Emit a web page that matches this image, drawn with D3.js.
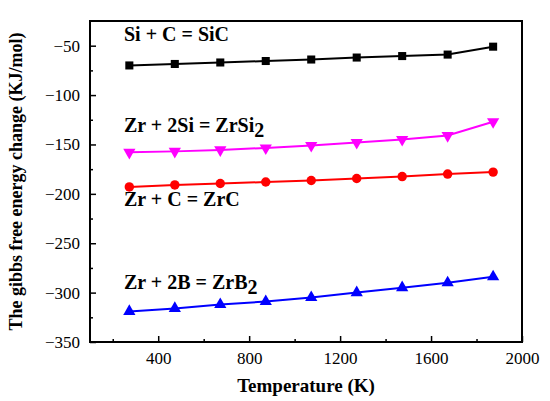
<!DOCTYPE html><html><head><meta charset="utf-8"><script src="https://cdn.jsdelivr.net/npm/d3@7"></script>
<style>body{margin:0;background:#fff}text{font-family:"Liberation Serif","Times New Roman",serif !important}</style></head><body><svg width="550" height="401"></svg>
<script>
const temps=[273,473,673,873,1073,1273,1473,1673,1873];
const sic=[-70,-68.5,-67,-65.5,-64,-62,-60.5,-59,-51];
const zrsi2=[-158,-157,-155.5,-153.5,-151,-148,-145,-141,-127];
const zrc=[-193,-191,-189.5,-188,-186.5,-184.5,-182.5,-180,-178];
const zrb2=[-319,-316,-312,-309,-305,-300,-295,-290,-284];
const xTicks=[400,800,1200,1600,2000];
const yTicks=[-50,-100,-150,-200,-250,-300,-350];
const svg=d3.select("svg");
const L=90,R=522,T=21,B=342;
const x=d3.scaleLinear().domain([100,2000]).range([L,R]);
const y=d3.scaleLinear().domain([-350,-25]).range([B,T]);
svg.append("rect").attr("x",L).attr("y",T).attr("width",R-L).attr("height",B-T).attr("fill","none").attr("stroke","#000").attr("stroke-width",2);
svg.append("g").attr("transform",`translate(0,${B})`).call(d3.axisBottom(x).tickValues(xTicks).tickSize(-6).tickPadding(10).tickFormat(d3.format("d")));
svg.append("g").attr("transform",`translate(0,${B})`).call(d3.axisBottom(x).tickValues([200,600,1000,1400,1800]).tickSize(-3).tickFormat(""));
svg.append("g").attr("transform",`translate(${L},0)`).call(d3.axisLeft(y).tickValues(yTicks).tickSize(-6).tickPadding(10).tickFormat(d=>"\u2212"+Math.abs(d)));
svg.append("g").attr("transform",`translate(${L},0)`).call(d3.axisLeft(y).tickValues([-75,-125,-175,-225,-275,-325]).tickSize(-3).tickFormat(""));
svg.selectAll(".domain").remove();
svg.selectAll("g").attr("font-family",null);
svg.selectAll(".tick line").attr("stroke","#000").attr("stroke-width",1.5);
svg.selectAll(".tick text").attr("font-size",17).attr("fill","#000");
svg.append("text").attr("x",(L+R)/2).attr("y",392).attr("text-anchor","middle").attr("font-size",19).attr("font-weight","bold").text("Temperature (K)");
svg.append("text").attr("transform",`translate(22,${(T+B)/2}) rotate(-90)`).attr("text-anchor","middle").attr("font-size",18).attr("font-weight","bold").text("The gibbs free energy change (KJ/mol)");
const series=[[sic,"#000","square"],[zrsi2,"#ff00ff","tri-down"],[zrc,"#ff0000","circle"],[zrb2,"#0000ff","tri"]];
const line=d3.line().x((d,i)=>x(temps[i])).y(d=>y(d));
series.forEach(([v,c,s])=>{
 svg.append("path").attr("d",line(v)).attr("fill","none").attr("stroke",c).attr("stroke-width",2);
 const sym=s==="square"?d3.symbolSquare:s==="circle"?d3.symbolCircle:d3.symbolTriangle;
 svg.selectAll(null).data(v).enter().append("path").attr("d",d3.symbol().type(sym).size(s==="circle"?70:65))
  .attr("transform",(d,i)=>`translate(${x(temps[i])},${y(d)})${s==="tri-down"?" rotate(180)":""}`).attr("fill",c);
});
const labels=[["Si + C = SiC",null,-45],["Zr + 2Si = ZrSi","2",-137],["Zr + C = ZrC",null,-212],["Zr + 2B = ZrB","2",-296]];
labels.forEach(([t,sub,v])=>{
 const tx=svg.append("text").attr("x",124).attr("y",y(v)).attr("font-size",20).attr("font-weight","bold").text(t);
 if(sub) tx.append("tspan").attr("dy",5).text(sub);
});
</script></body></html>
